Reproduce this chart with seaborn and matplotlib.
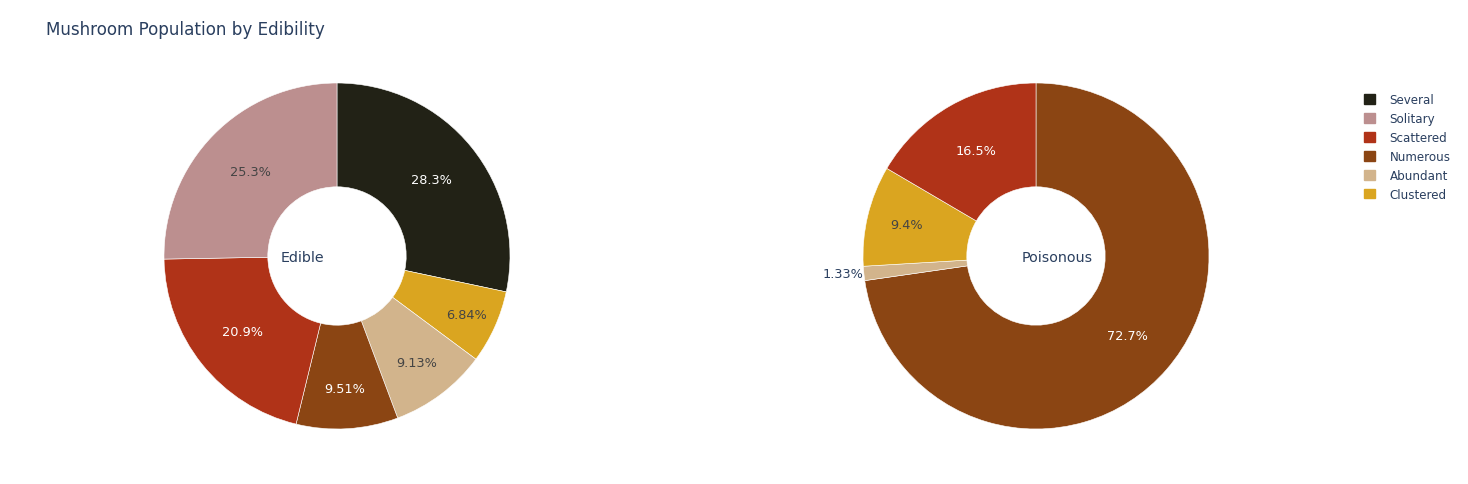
import matplotlib
matplotlib.use("Agg")
import matplotlib.pyplot as plt
from matplotlib.patches import Patch
import seaborn as sns
import numpy as np

sns.set_style("white")
plt.rcParams['font.family'] = ['DejaVu Sans']

# Data (counts; shown as percentages)
edible_labels = ["Several", "Clustered", "Abundant", "Numerous", "Scattered", "Solitary"]
edible_values = [1192, 288, 384, 400, 880, 1064]
poison_labels = ["Numerous", "Abundant", "Clustered", "Scattered"]
poison_values = [2848, 52, 368, 648]
legend_order = ["Several", "Solitary", "Scattered", "Numerous", "Abundant", "Clustered"]

colors = {
    "Several": "#222216",
    "Solitary": "#BC8F8F",
    "Scattered": "#B03318",
    "Numerous": "#8B4513",
    "Abundant": "#D2B48C",
    "Clustered": "#DAA520",
}
dark_slices = {"Several", "Scattered", "Numerous"}

W, H = 1468, 485
fig = plt.figure(figsize=(W / 100, H / 100), dpi=100)

def add_donut(cx, cy, r, labels, values, center_text, center_dx, outside=()):
    ax = fig.add_axes([(cx - r) / W, (H - cy - r) / H, 2 * r / W, 2 * r / H])
    total = float(sum(values))
    ax.pie(values, colors=[colors[l] for l in labels], startangle=90,
           counterclock=False, radius=1.0,
           wedgeprops=dict(width=0.6, linewidth=0.4, edgecolor="#ffffff"))
    ax.set_xlim(-1, 1)
    ax.set_ylim(-1, 1)
    ax.set_aspect("equal")
    ax.axis("off")
    ang0 = 90.0
    for lab, v in zip(labels, values):
        frac = v / total
        mid = ang0 - frac * 360 / 2
        ang0 -= frac * 360
        txt = ("%.3g" % (frac * 100)) + "%"
        th = np.deg2rad(mid)
        if lab in outside:
            x, y = 1.005 * np.cos(th), 1.005 * np.sin(th)
            ax.text(x, y, txt, ha="right", va="center", fontsize=9.3, color="#2a3f5f")
        else:
            rr = 0.70 if frac > 0.12 else (0.77 if frac > 0.08 else 0.82)
            x, y = rr * np.cos(th), rr * np.sin(th)
            c = "white" if lab in dark_slices else "#444444"
            ax.text(x, y, txt, ha="center", va="center", fontsize=9.3, color=c)
    ax.text(center_dx, -0.005, center_text, ha="center", va="center", fontsize=10.3, color="#2a3f5f")
    return ax

add_donut(337, 257, 173, edible_labels, edible_values, "Edible", -0.197)
add_donut(1036, 257, 173, poison_labels, poison_values, "Poisonous", 0.121, outside=("Abundant",))

fig.text(46 / W, 1 - 30 / H, "Mushroom Population by Edibility", ha="left", va="center",
         fontsize=12.1, color="#2a3f5f")

handles = [Patch(facecolor=colors[l], edgecolor=colors[l], label=l) for l in legend_order]
leg = fig.legend(handles=handles, loc="upper left", bbox_to_anchor=(1359 / W, 1 - 89 / H),
                 frameon=False, fontsize=8.6, handlelength=0.9, handleheight=0.9,
                 labelspacing=0.5, handletextpad=1.25, borderaxespad=0)
for t in leg.get_texts():
    t.set_color("#2a3f5f")

fig.savefig("out.png", dpi=100)
